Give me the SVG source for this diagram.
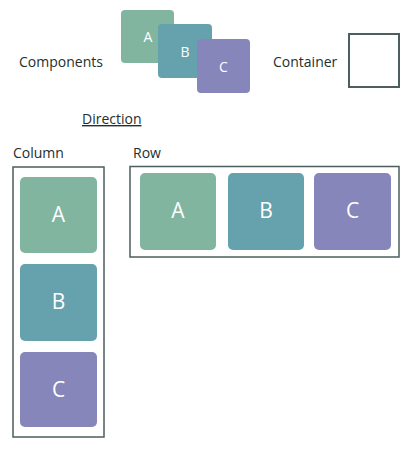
<svg xmlns="http://www.w3.org/2000/svg" width="413" height="451" viewBox="0 0 413 451">
<style>
.lbl{font-family:"Open Sans","Liberation Sans",sans-serif;font-size:14px;fill:#22302f}
.a{fill:#82b5a0}.b{fill:#66a2ae}.c{fill:#8786bb}
.t{font-family:"Open Sans","Liberation Sans",sans-serif;fill:#ffffff;text-anchor:middle}
.s{font-size:14px}.L{font-size:21px}
.box{fill:#ffffff;stroke:#4d5e5e}
</style>
<rect width="413" height="451" fill="#ffffff"/>
<g id="legend">
<text class="lbl" x="19" y="67">Components</text>
<g id="top-A"><rect class="a" x="121" y="10" width="53" height="53" rx="4"/><text class="t s" x="148" y="42">A</text></g>
<g id="top-B"><rect class="b" x="158" y="24" width="54" height="54" rx="4"/><text class="t s" x="185" y="57">B</text></g>
<g id="top-C"><rect class="c" x="197" y="39" width="53" height="54" rx="4"/><text class="t s" x="223.5" y="72">C</text></g>
<text class="lbl" x="273" y="67">Container</text>
<g id="container-legend"><rect class="box" x="349" y="34" width="50" height="53" stroke-width="2"/></g>
<text class="lbl" x="82" y="124" text-decoration="underline">Direction</text>
</g>
<g id="column">
<text class="lbl" x="13" y="158">Column</text>
<rect class="box" x="13" y="167" width="91" height="270" stroke-width="1.5"/>
<g id="col-A"><rect class="a" x="20" y="177" width="77" height="76" rx="5"/><text class="t L" x="58.5" y="222">A</text></g>
<g id="col-B"><rect class="b" x="20" y="264" width="77" height="77" rx="5"/><text class="t L" x="58.5" y="309">B</text></g>
<g id="col-C"><rect class="c" x="20" y="352" width="77" height="75" rx="5"/><text class="t L" x="58.5" y="397">C</text></g>
</g>
<g id="row">
<text class="lbl" x="133" y="158">Row</text>
<rect class="box" x="130" y="166.5" width="269" height="90.5" stroke-width="1.5"/>
<g id="row-A"><rect class="a" x="140" y="173" width="76" height="77" rx="5"/><text class="t L" x="178" y="218">A</text></g>
<g id="row-B"><rect class="b" x="228" y="173" width="76" height="77" rx="5"/><text class="t L" x="266" y="218">B</text></g>
<g id="row-C"><rect class="c" x="314" y="173" width="77" height="77" rx="5"/><text class="t L" x="352.5" y="218">C</text></g>
</g>
<g id="connectors"></g>
</svg>
